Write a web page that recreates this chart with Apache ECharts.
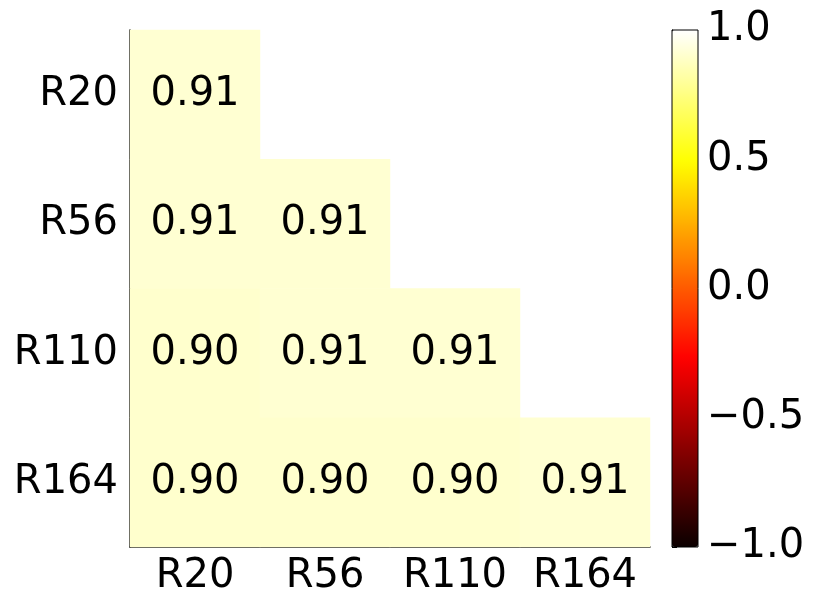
<!DOCTYPE html>
<html>
<head>
<meta charset="utf-8">
<script src="https://cdn.jsdelivr.net/npm/echarts@6/dist/echarts.min.js"></script>
<style>html,body{margin:0;padding:0;background:#fff}#c{width:822px;height:611px}</style>
</head>
<body>
<div id="c"></div>
<script>
const categories = ['R20', 'R56', 'R110', 'R164'];
const rowR20 = [0.91];
const rowR56 = [0.91, 0.91];
const rowR110 = [0.90, 0.91, 0.91];
const rowR164 = [0.90, 0.90, 0.90, 0.91];
const rows = [rowR20, rowR56, rowR110, rowR164];
const colorbarTicks = [-1.0, -0.5, 0.0, 0.5, 1.0];

// matplotlib "hot" colormap sampled
function hot(t) {
  const r = t < 0.365079 ? 0.0416 + (1 - 0.0416) * t / 0.365079 : 1;
  const g = t < 0.365079 ? 0 : (t < 0.746032 ? (t - 0.365079) / (0.746032 - 0.365079) : 1);
  const b = t < 0.746032 ? 0 : (t - 0.746032) / (1 - 0.746032);
  const h = v => Math.round(Math.max(0, Math.min(1, v)) * 255);
  return 'rgb(' + h(r) + ',' + h(g) + ',' + h(b) + ')';
}
const hotColors = [];
for (let i = 0; i <= 60; i++) hotColors.push(hot(i / 60));

const data = [];
rows.forEach((row, y) => row.forEach((v, x) => data.push([x, y, v])));

const FONT = 'DejaVu Sans';
const FS = 40;
const fmt = v => (v < 0 ? '\u2212' : '') + Math.abs(v).toFixed(1);

const chart = echarts.init(document.getElementById('c'), null, {renderer: 'canvas'});
chart.setOption({
  animation: false,
  backgroundColor: '#fff',
  grid: [
    {left: 130, top: 30, width: 520, height: 517, containLabel: false},
    {left: 672, top: 30, width: 26, height: 517, show: true, borderColor: '#000', borderWidth: 1, backgroundColor: 'transparent', z: 10}
  ],
  xAxis: [
    {type: 'category', data: categories, gridIndex: 0,
     axisLine: {lineStyle: {color: '#000', width: 1.5}},
     axisTick: {show: false}, splitLine: {show: false},
     axisLabel: {color: '#000', fontFamily: FONT, fontSize: FS, margin: 10, interval: 0, hideOverlap: false}},
    {type: 'value', gridIndex: 1, show: false, min: 0, max: 1}
  ],
  yAxis: [
    {type: 'category', data: categories, gridIndex: 0, inverse: true,
     axisLine: {lineStyle: {color: '#000', width: 1.5}},
     axisTick: {show: false}, splitLine: {show: false},
     axisLabel: {color: '#000', fontFamily: FONT, fontSize: FS, margin: 12, interval: 0}},
    {type: 'value', gridIndex: 1, position: 'right', min: -1, max: 1, interval: 0.5,
     axisLine: {show: true, lineStyle: {color: '#000', width: 1}},
     axisTick: {show: true, length: 5, lineStyle: {color: '#000', width: 1}},
     splitLine: {show: false},
     axisLabel: {color: '#000', fontFamily: FONT, fontSize: FS, margin: 9, formatter: fmt}}
  ],
  visualMap: {
    type: 'continuous', min: -1, max: 1, calculable: false, seriesIndex: 0,
    left: 672, top: 30, itemWidth: 26, itemHeight: 517, padding: 0,
    orient: 'vertical', text: null, showLabel: false,
    inRange: {color: hotColors},
    hoverLink: false
  },
  series: [{
    type: 'heatmap', xAxisIndex: 0, yAxisIndex: 0, data: data,
    label: {show: true, color: '#000', fontFamily: FONT, fontSize: FS,
            formatter: p => p.value[2].toFixed(2)},
    itemStyle: {borderWidth: 0},
    emphasis: {disabled: true}
  }]
});
</script>
</body>
</html>
